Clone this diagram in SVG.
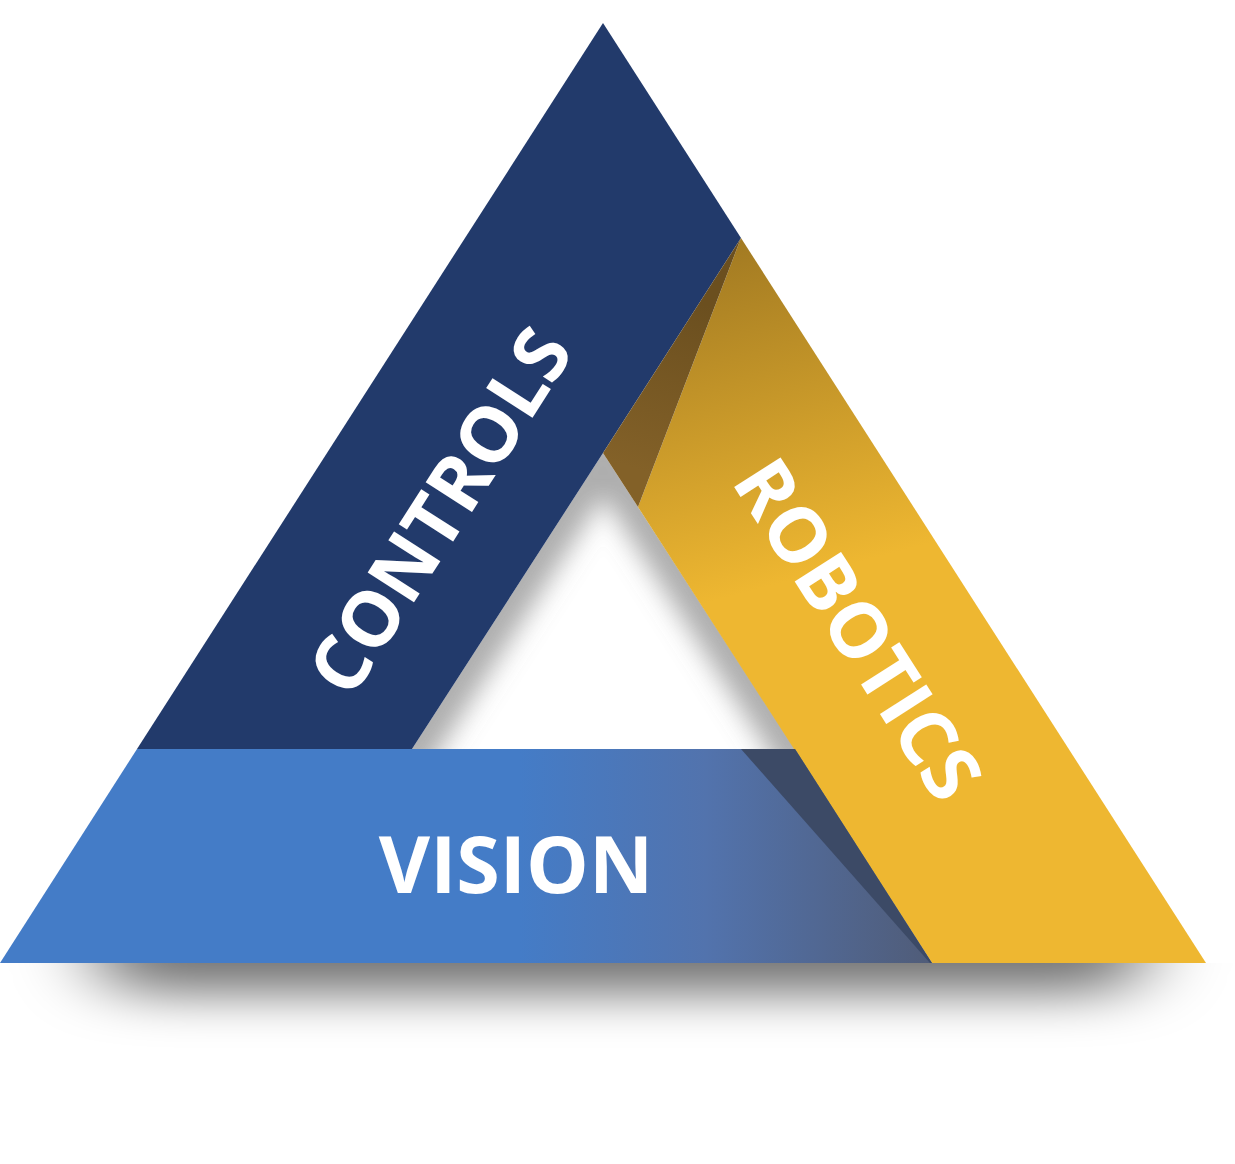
<svg xmlns="http://www.w3.org/2000/svg" width="1235" height="1164" viewBox="0 0 1235 1164">
<defs>
<style>
.lbl{font-family:"Open Sans","Liberation Sans",sans-serif;font-weight:700;fill:#ffffff;text-anchor:middle}
</style>
<linearGradient id="goldG" gradientUnits="userSpaceOnUse" x1="741" y1="238" x2="830" y2="570">
<stop offset="0" stop-color="#a27a22"/>
<stop offset="1" stop-color="#eeb731"/>
</linearGradient>
<linearGradient id="brownG" gradientUnits="userSpaceOnUse" x1="690" y1="300" x2="640" y2="470">
<stop offset="0" stop-color="#6b4f1f"/>
<stop offset="1" stop-color="#836128"/>
</linearGradient>
<linearGradient id="blueG" gradientUnits="userSpaceOnUse" x1="520" y1="0" x2="932" y2="0">
<stop offset="0" stop-color="#447cc7"/>
<stop offset="0.45" stop-color="#5273ad"/>
<stop offset="1" stop-color="#505c78"/>
</linearGradient>
<filter id="blurShadow" x="-20%" y="-100%" width="140%" height="300%">
<feGaussianBlur stdDeviation="40 24"/>
</filter>
<filter id="blurInner" x="-20%" y="-20%" width="140%" height="140%">
<feGaussianBlur stdDeviation="13"/>
</filter>
<clipPath id="belowClip"><rect x="0" y="963" width="1235" height="201"/></clipPath>
<clipPath id="innerClip"><polygon points="603,453 412,749 795,749"/></clipPath>
</defs>
<rect width="1235" height="1164" fill="#ffffff"/>
<g id="ground-shadow" clip-path="url(#belowClip)">
<rect x="95" y="895" width="1050" height="98" rx="45" fill="#000000" fill-opacity="0.55" filter="url(#blurShadow)"/>
</g>
<g id="inner-triangle" clip-path="url(#innerClip)">
<polygon points="603,453 412,749 795,749" fill="#ffffff"/>
<polyline points="400,768 603,453 807,768" fill="none" stroke="#777777" stroke-opacity="0.6" stroke-width="46" filter="url(#blurInner)"/>
</g>
<g id="controls">
<polygon points="603,23 741,238 603,453 412,749 137,749" fill="#223a6b"/>
<text class="lbl" font-size="77" transform="translate(463,526) rotate(-57.3)">CONTROLS</text>
</g>
<g id="robotics">
<polygon points="741,238 1206,963 932,963 638,507" fill="url(#goldG)"/>
<polygon points="741,238 603,453 638,507" fill="url(#brownG)"/>
<text class="lbl" font-size="77" transform="translate(835,644) rotate(57.3)">ROBOTICS</text>
</g>
<g id="vision">
<polygon points="137,749 795,749 932,963 0,963" fill="url(#blueG)"/>
<polygon points="741,749 795,749 932,963 930,963" fill="#3c4a66"/>
<text class="lbl" font-size="79" x="516" y="893">VISION</text>
</g>
<g id="connectors"/>
</svg>
